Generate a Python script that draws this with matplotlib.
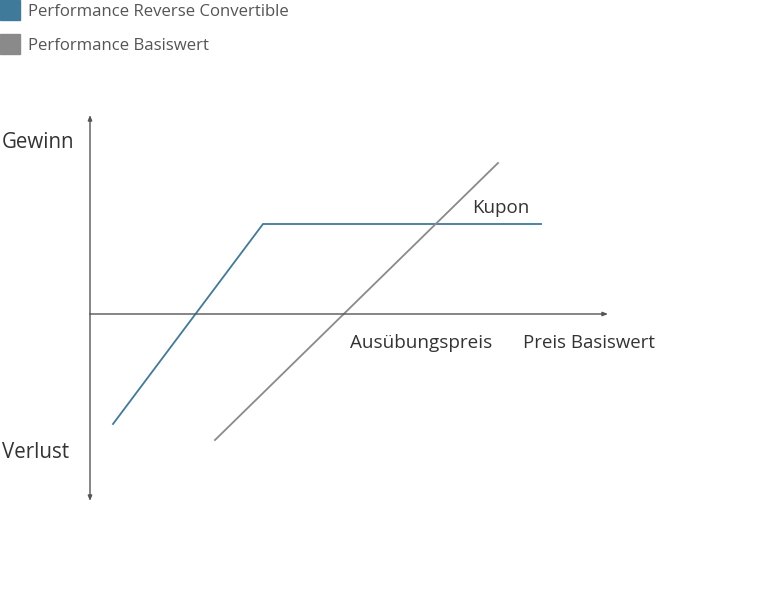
import matplotlib.pyplot as plt
from matplotlib.patches import Rectangle

plt.rcParams['font.family'] = ['Open Sans', 'DejaVu Sans']

# payoff diagram data (abstract units: price on x, profit/loss on y)
rc_price = [2.3, 17.3, 45.1]
rc_payoff = [-11.0, 9.0, 9.0]
base_price = [12.5, 40.8]
base_payoff = [-12.6, 15.1]
legend_labels = ['Performance Reverse Convertible', 'Performance Basiswert']

blue = '#3f7a9b'
gray = '#8a8a8a'
axis_col = '#555555'
text_col = '#333333'

fig = plt.figure(figsize=(7.69, 6.01), dpi=100)
ax = fig.add_axes([0, 0, 1, 1])
ax.set_xlim(-9, 67.9)
ax.set_ylim(-28.7, 31.4)
ax.axis('off')

# axes with arrow heads
arrow = dict(arrowstyle='-|>,head_length=0.3,head_width=0.12', color=axis_col, lw=1,
             shrinkA=0, shrinkB=0)
ax.annotate('', xy=(0, 19.9), xytext=(0, 0), arrowprops=arrow)
ax.annotate('', xy=(0, -18.7), xytext=(0, 0), arrowprops=arrow)
ax.annotate('', xy=(51.8, 0), xytext=(0, 0), arrowprops=arrow)

ax.plot(rc_price, rc_payoff, color=blue, lw=1.3, solid_joinstyle='miter')
ax.plot(base_price, base_payoff, color=gray, lw=1.3)

ax.text(-8.8, 17.1, 'Gewinn', fontsize=14.8, color=text_col, va='center', ha='left')
ax.text(-8.8, -13.8, 'Verlust', fontsize=14.8, color=text_col, va='center', ha='left')
ax.text(38.2, 10.6, 'Kupon', fontsize=13.5, color=text_col, va='center', ha='left')
ax.text(26.0, -2.9, 'Ausübungspreis', fontsize=13.6, color=text_col, va='center', ha='left')
ax.text(43.3, -2.9, 'Preis Basiswert', fontsize=13.4, color=text_col, va='center', ha='left')

# legend drawn by hand at the top left
for i, (lab, col) in enumerate(zip(legend_labels, [blue, gray])):
    y0 = 1 - (i * 34) / 601
    fig.patches.append(Rectangle((0, y0 - 19.5 / 601), 20 / 769, 19.5 / 601,
                                 transform=fig.transFigure, color=col))
    fig.text(28 / 769, y0 - 11.5 / 601, lab, fontsize=12.1, color='#555555',
             va='center', ha='left')

fig.savefig('out.png', dpi=100)
